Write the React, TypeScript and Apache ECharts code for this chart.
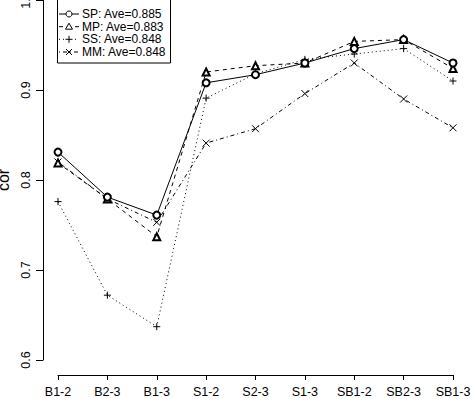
import React, { useEffect, useRef } from "react";
import * as echarts from "echarts";

const categories = ["B1-2", "B2-3", "B1-3", "S1-2", "S2-3", "S1-3", "SB1-2", "SB2-3", "SB1-3"];
const spValues = [0.831, 0.781, 0.761, 0.908, 0.917, 0.930, 0.946, 0.956, 0.930];
const mpValues = [0.819, 0.779, 0.737, 0.920, 0.927, 0.930, 0.954, 0.956, 0.924];
const ssValues = [0.776, 0.672, 0.637, 0.891, 0.918, 0.934, 0.940, 0.946, 0.910];
const mmValues = [0.820, 0.779, 0.753, 0.841, 0.857, 0.896, 0.930, 0.890, 0.858];
const legendLabels = ["SP: Ave=0.885", "MP: Ave=0.883", "SS: Ave=0.848", "MM: Ave=0.848"];
const yTicks = { min: 0.6, max: 1.0, interval: 0.1 };

const FONT = "'Liberation Sans', Arial, Helvetica, sans-serif";
const INK = "#000";

const plusPath = "path://M5,0L5,10M0,5L10,5";
const crossPath = "path://M0,0L10,10M10,0L0,10";

export default function App() {
  const ref = useRef<HTMLDivElement>(null);
  useEffect(() => {
    if (!ref.current) return;
    const chart = echarts.init(ref.current, null, { renderer: "svg" });

    const mkSeries = (name: string, data: number[], symbol: string, dash: any, extra: any = {}) => ({
      name,
      type: "line",
      data,
      symbol,
      symbolSize: 7,
      showSymbol: true,
      lineStyle: { color: INK, width: 1, type: dash },
      itemStyle: { color: extra.fill ?? INK, borderColor: INK, borderWidth: 1 },
      emphasis: { disabled: true },
      z: extra.z ?? 2,
    });

    // legend geometry
    const lx0 = 59, lx1 = 79, lmx = 69, ltx = 82;
    const rows = [14, 26.7, 39.3, 52];
    const dashes: any[] = [null, [4, 4], [1, 3], [1, 3, 4, 3]];
    const legendGraphics: any[] = [
      {
        type: "rect",
        shape: { x: 57.5, y: -2, width: 113, height: 65 },
        style: { fill: "#fff", stroke: INK, lineWidth: 1 },
        z: 10,
      },
    ];
    rows.forEach((y, i) => {
      legendGraphics.push({
        type: "line",
        shape: { x1: lx0, y1: y, x2: lx1, y2: y },
        style: { stroke: INK, lineWidth: 1, lineDash: dashes[i] },
        z: 11,
      });
      if (i === 0) {
        legendGraphics.push({
          type: "circle",
          shape: { cx: lmx, cy: y, r: 3 },
          style: { fill: "#fff", stroke: INK, lineWidth: 1 },
          z: 12,
        });
      } else if (i === 1) {
        legendGraphics.push({
          type: "polygon",
          shape: { points: [[lmx, y - 3.5], [lmx + 3.5, y + 2.5], [lmx - 3.5, y + 2.5]] },
          style: { fill: "#fff", stroke: INK, lineWidth: 1 },
          z: 12,
        });
      } else if (i === 2) {
        legendGraphics.push(
          { type: "rect", shape: { x: lmx - 4, y: y - 2, width: 8, height: 4 }, style: { fill: "#fff" }, z: 11.5 },
          { type: "line", shape: { x1: lmx - 3.5, y1: y, x2: lmx + 3.5, y2: y }, style: { stroke: INK, lineWidth: 1 }, z: 12 },
          { type: "line", shape: { x1: lmx, y1: y - 3.5, x2: lmx, y2: y + 3.5 }, style: { stroke: INK, lineWidth: 1 }, z: 12 }
        );
      } else {
        legendGraphics.push(
          { type: "line", shape: { x1: lmx - 3, y1: y - 3, x2: lmx + 3, y2: y + 3 }, style: { stroke: INK, lineWidth: 1 }, z: 12 },
          { type: "line", shape: { x1: lmx + 3, y1: y - 3, x2: lmx - 3, y2: y + 3 }, style: { stroke: INK, lineWidth: 1 }, z: 12 }
        );
      }
      legendGraphics.push({
        type: "text",
        x: ltx,
        y,
        style: {
          text: legendLabels[i],
          fontSize: 12,
          fontFamily: FONT,
          lineHeight: 12,
          fill: INK,
          align: "left",
          verticalAlign: "middle",
        },
        z: 12,
      });
    });

    chart.setOption({
      animation: false,
      backgroundColor: "#fff",
      grid: { left: 58, right: 21, top: 0, bottom: 38, containLabel: false, outerBoundsMode: "none" },
      xAxis: {
        type: "category",
        data: categories,
        boundaryGap: false,
        offset: 15,
        axisLine: { show: true, lineStyle: { color: INK, width: 1 } },
        axisTick: { show: true, length: 5, alignWithLabel: true, lineStyle: { color: INK } },
        axisLabel: { color: INK, fontSize: 12.5, fontFamily: FONT, margin: 10, interval: 0 },
        splitLine: { show: false },
      },
      yAxis: {
        type: "value",
        min: yTicks.min,
        max: yTicks.max,
        interval: yTicks.interval,
        offset: 15,
        name: "cor",
        nameLocation: "middle",
        nameRotate: 90,
        nameGap: 28,
        nameTextStyle: { color: INK, fontSize: 16, fontFamily: FONT },
        axisLine: { show: true, lineStyle: { color: INK, width: 1 } },
        axisTick: { show: true, length: 7, lineStyle: { color: INK } },
        axisLabel: {
          color: INK,
          fontSize: 12.5,
          fontFamily: FONT,
          rotate: 90,
          margin: 11,
          formatter: (v: number) => v.toFixed(1),
          showMinLabel: true,
          showMaxLabel: true,
        },
        splitLine: { show: false },
      },
      graphic: legendGraphics,
      series: [
        mkSeries("SP", spValues, "emptyCircle", "solid", { z: 5 }),
        mkSeries("MP", mpValues, "emptyTriangle", [4, 4], { z: 4 }),
        mkSeries("SS", ssValues, plusPath, [1, 3], { fill: "none", z: 3 }),
        mkSeries("MM", mmValues, crossPath, [1, 3, 4, 3], { fill: "none", z: 2 }),
      ],
    });
    return () => chart.dispose();
  }, []);

  return (
    <div
      ref={ref}
      style={{ position: "fixed", left: 0, top: 0, width: 474, height: 398, background: "#fff" }}
    />
  );
}
